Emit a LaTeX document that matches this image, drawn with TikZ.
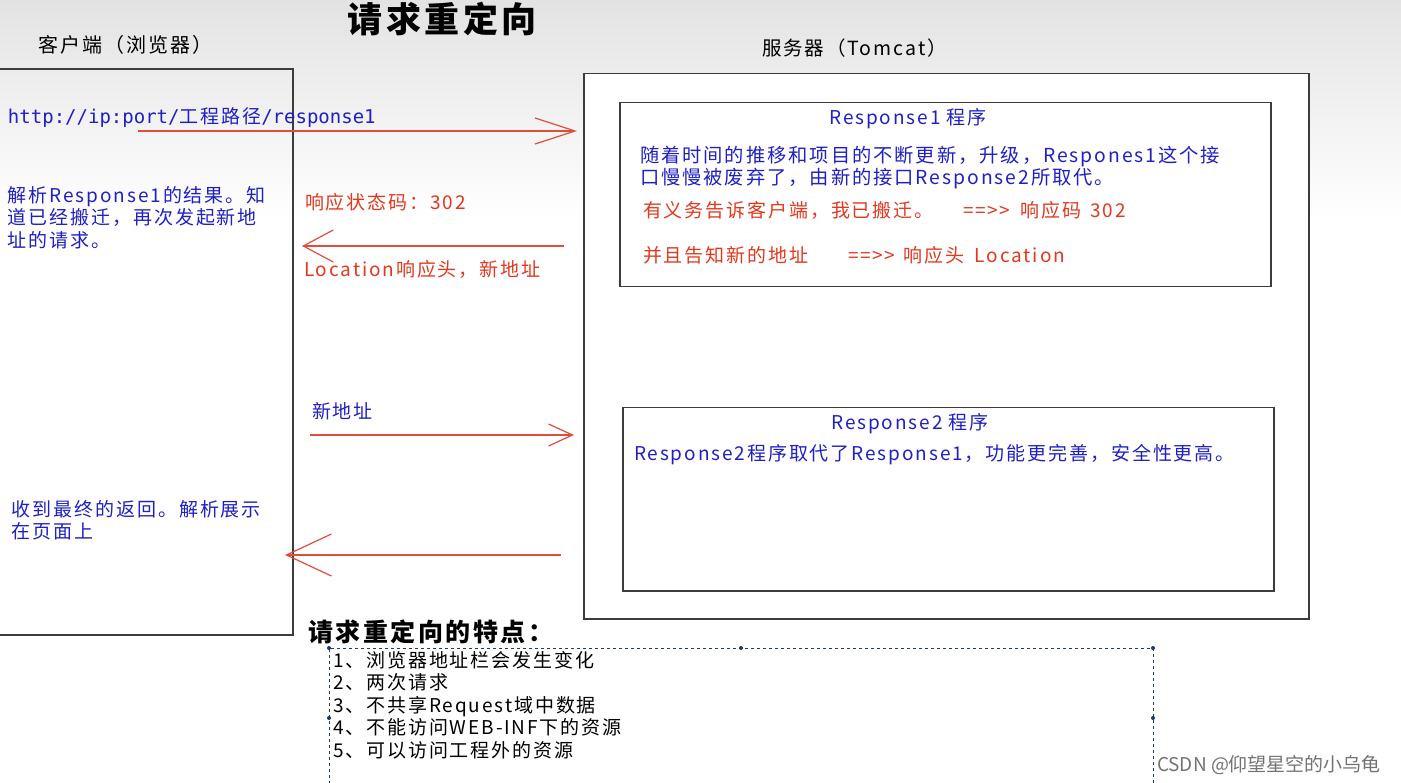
\documentclass[tikz,border=0pt]{standalone}
\usepackage{fontspec}
\setmainfont{Noto Sans CJK SC}[LetterSpace=10]
\newfontfamily\plainfont{Noto Sans CJK SC}
\newfontfamily\monofont{DejaVu Sans Mono}
\usetikzlibrary{arrows.meta}
\definecolor{txtblue}{RGB}{32,32,196}
\definecolor{txtred}{RGB}{226,56,30}
\definecolor{arrred}{RGB}{222,78,60}
\definecolor{boxgray}{RGB}{60,60,60}
\definecolor{navy}{RGB}{30,55,110}
\newcommand\dblarrow{=\kern1.5pt=\kern1.5pt>{}\kern1.5pt>}
\tikzset{
  box/.style={draw=boxgray,line width=1.5pt},
  lbl/.style={inner sep=0pt,outer sep=0pt},
  bluetxt/.style={lbl,text=txtblue,font=\fontsize{19}{22.5}\selectfont,align=left},
  redtxt/.style={lbl,text=txtred,font=\fontsize{19}{22.5}\selectfont,align=left},
  blacktxt/.style={lbl,text=black,font=\fontsize{19}{22.5}\selectfont,align=left},
  flow/.style={draw=arrred,line width=1.2pt},
}
\begin{document}
\begin{tikzpicture}[x=1pt,y=-1pt]
\useasboundingbox (0,0) rectangle (1401,783);
\shade[top color=black!11,bottom color=white] (0,0) rectangle (1401,220);
\fill[white] (0,220) rectangle (1401,783);

% title and headings
\node[lbl,font=\fontsize{35}{40}\selectfont\bfseries,anchor=base] (title) at (442,33) {请求重定向};
\node[lbl,font=\fontsize{20}{22}\selectfont,anchor=west] (clientlbl) at (38,45) {客户端（浏览器）};
\node[lbl,font=\fontsize{19.5}{22}\selectfont,anchor=west] (serverlbl) at (762,48) {服务器（Tomcat）};

% boxes
\draw[box] (-2,69) rectangle (293,635);
\node[box,fill=white,minimum width=725pt,minimum height=545pt,inner sep=0pt,anchor=north west] (server) at (583,73) {};
\node[box,fill=white,minimum width=651pt,minimum height=184pt,inner sep=0pt,anchor=north west] (r1) at (619,102) {};
\node[box,fill=white,minimum width=651pt,minimum height=183pt,inner sep=0pt,anchor=north west] (r2) at (622,407) {};

% client texts
\node[lbl,text=txtblue,anchor=west,font=\fontsize{19}{22}\selectfont] (url) at (8,117)
  {{\monofont http://ip:port/}工程路径{\monofont /response1}};
\node[bluetxt,anchor=north west] (parse) at (8,186)
  {解析Response1的结果。知\\道已经搬迁，再次发起新地\\址的请求。};
\node[bluetxt,anchor=north west] (final) at (12,500)
  {收到最终的返回。解析展示\\在页面上};

% arrow labels
\node[redtxt,anchor=west] (code) at (305,202) {响应状态码：302};
\node[redtxt,anchor=west] (loc) at (304,269) {Location响应头，新地址};
\node[bluetxt,anchor=west] (newaddr) at (312,411) {新地址};

% Response1 box texts
\node[bluetxt,anchor=center] (r1title) at (908,119) {Response1 程序};
\node[bluetxt,anchor=north west,font=\fontsize{19.3}{22.5}\selectfont] (r1para) at (640,146)
  {随着时间的推移和项目的不断更新，升级，Respones1这个接\\口慢慢被废弃了，由新的接口Response2所取代。};
\node[redtxt,anchor=west] (r1a) at (643,210) {有义务告诉客户端，我已搬迁。\hspace{30pt}\dblarrow\hspace{10pt}响应码\hspace{9pt}302};
\node[redtxt,anchor=west] (r1b) at (643,255) {并且告知新的地址\hspace{40pt}\dblarrow\hspace{9pt}响应头\hspace{10pt}Location};

% Response2 box texts
\node[bluetxt,anchor=center] (r2title) at (910,424) {Response2 程序};
\node[bluetxt,anchor=west] (r2para) at (634,455) {Response2程序取代了Response1，功能更完善，安全性更高。};

% arrows
\coordinate (a1s) at (138,131); \coordinate (a1e) at (577,131);
\coordinate (a2s) at (564,246); \coordinate (a2e) at (302,246);
\coordinate (a3s) at (310,435); \coordinate (a3e) at (574,435);
\coordinate (a4s) at (561,555); \coordinate (a4e) at (285,555);
\draw[flow,-{Straight Barb[length=40pt,width=26pt,line width=1.2pt]}] (a1s) -- (a1e);
\draw[flow,-{Straight Barb[length=30pt,width=32pt,line width=1.2pt]}] (a2s) -- (a2e);
\draw[flow,-{Straight Barb[length=24pt,width=22pt,line width=1.2pt]}] (a3s) -- (a3e);
\draw[flow,-{Straight Barb[length=45pt,width=42pt,line width=1.2pt]}] (a4s) -- (a4e);

% features
\node[lbl,font=\fontsize{25}{28}\selectfont\bfseries,anchor=west] (feat) at (308,632) {请求重定向的特点：};
\draw[navy,dashed,line width=1pt] (329,790) -- (329,648) -- (1153,648) -- (1153,790);
\foreach \p in {(329,648),(741,648),(1153,648),(329,718),(1153,718)}
  \fill[navy] \p circle (2pt);
\node[blacktxt,anchor=north west] (list) at (333,651)
  {1、浏览器地址栏会发生变化\\2、两次请求\\3、不共享Request域中数据\\4、不能访问WEB-INF下的资源\\5、可以访问工程外的资源};

% watermark
\node[lbl,text=black!55,font=\fontsize{19}{20}\selectfont\plainfont,anchor=west] (wm) at (1157,765) {CSDN @仰望星空的小乌龟};
\end{tikzpicture}
\end{document}
